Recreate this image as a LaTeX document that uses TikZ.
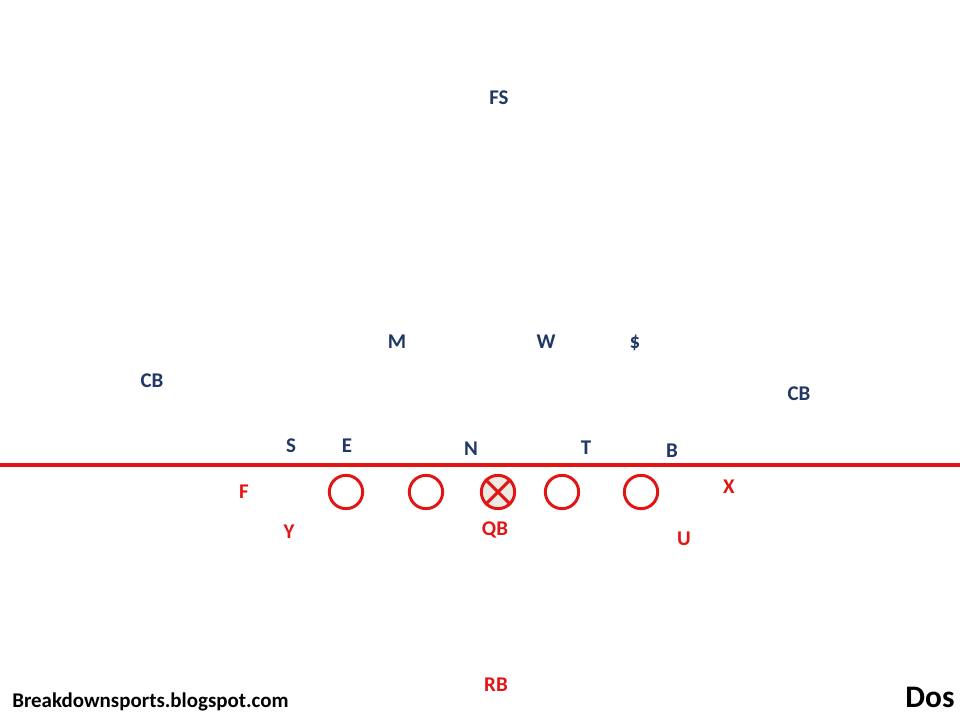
\documentclass[tikz,border=0pt]{standalone}
\usepackage{fontspec}
\setmainfont{Carlito}
\definecolor{navy}{HTML}{1F3864}
\definecolor{fred}{HTML}{E31414}
\definecolor{qbfill}{HTML}{EEEAE2}
\begin{document}
\begin{tikzpicture}[x=0.75pt,y=-0.75pt,
  def/.style={text=navy,font=\fontsize{15.7}{18}\selectfont\bfseries,inner sep=0pt},
  off/.style={text=fred,font=\fontsize{15.7}{18}\selectfont\bfseries,inner sep=0pt},
  lineman/.style={circle,draw=fred,line width=2.2pt,minimum size=25pt,inner sep=0pt},
  scrim/.style={draw=fred,line width=2.3pt}]
\useasboundingbox (0,0) rectangle (960,720);
\fill[white] (0,0) rectangle (960,720);
% line of scrimmage
\coordinate (losL) at (0,465);
\coordinate (losR) at (960,465);
\draw[scrim] (losL) -- (losR);
% defense
\node[def] (fs) at (499,98) {FS};
\node[def] (m) at (397,342) {M};
\node[def] (w) at (546,342) {W};
\node[def] (dol) at (635,343) {\$};
\node[def] (cbl) at (152,381) {CB};
\node[def] (cbr) at (799,394) {CB};
\node[def] (s) at (291,446) {S};
\node[def] (e) at (347,446) {E};
\node[def] (n) at (471,449) {N};
\node[def] (t) at (586,448) {T};
\node[def] (b) at (672,451) {B};
% offense line
\node[lineman] (lt) at (346,492) {};
\node[lineman] (lg) at (426,492) {};
\node[lineman,fill=qbfill] (c) at (498,492) {};
\node[lineman] (rg) at (562,492) {};
\node[lineman] (rt) at (641,492) {};
\draw[draw=fred,line width=2.2pt] (c.north west) -- (c.south east);
\draw[draw=fred,line width=2.2pt] (c.north east) -- (c.south west);
% offense skill
\node[off] (f) at (244,492) {F};
\node[off] (x) at (729,487) {X};
\node[off] (y) at (289,532) {Y};
\node[off] (qb) at (495,530) {QB};
\node[off] (u) at (684,539) {U};
\node[off] (rb) at (496,685) {RB};
% captions
\node[anchor=west,inner sep=0pt,text=black,font=\fontsize{15.7}{18}\selectfont\bfseries] (site) at (12,702) {Breakdownsports.blogspot.com};
\node[inner sep=0pt,text=black,font=\fontsize{23.5}{26}\selectfont\bfseries] (dos) at (930,697) {Dos};
\end{tikzpicture}
\end{document}
